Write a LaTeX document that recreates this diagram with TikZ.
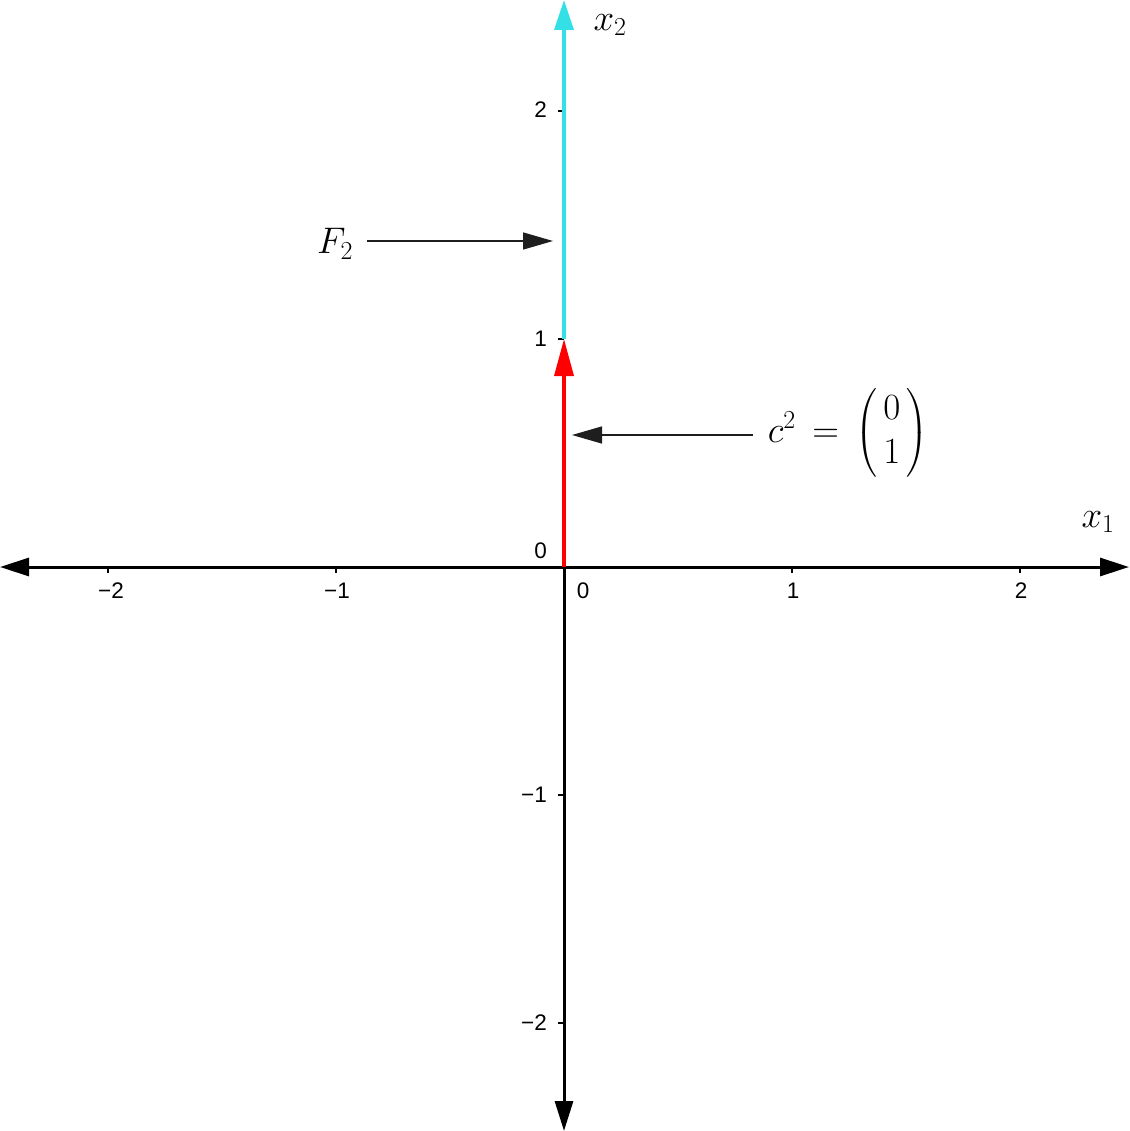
\documentclass[tikz,border=0pt]{standalone}
\usepackage{fix-cm}
\usepackage{amsmath}
\usepackage{fontspec}
\newfontfamily\tickfont{Liberation Sans}
\usetikzlibrary{arrows.meta}
\definecolor{vcyan}{RGB}{51,224,230}
\definecolor{vred}{RGB}{255,0,0}
\definecolor{notegray}{RGB}{30,30,30}
\tikzset{
  axisline/.style={line width=3pt, black},
  vec/.style={line width=3.5pt},
  note/.style={line width=1.4pt, notegray, -{Triangle[length=30pt,width=17pt]}},
  tick/.style={line width=1.5pt, black},
  ticklab/.style={font=\fontsize{22.5}{26}\selectfont\tickfont, inner sep=0pt},
  mlab/.style={font=\fontsize{37}{44}\selectfont, inner sep=0pt}
}
\begin{document}
\begin{tikzpicture}[x=1pt,y=-1pt]
\useasboundingbox (0,0) rectangle (1129,1131);
\fill[white] (0,0) rectangle (1129,1131);
% coordinates
\coordinate (O) at (564,567);
\coordinate (xl) at (0,567);
\coordinate (xr) at (1129,567);
\coordinate (yb) at (564,1131);
\coordinate (yt) at (564,0);
\coordinate (e2) at (564,339);
% axes
\draw[axisline, {Triangle[length=29pt,width=18pt]}-{Triangle[length=29pt,width=18pt]}] (xl) -- (xr);
\draw[axisline, -{Triangle[length=30pt,width=18pt]}] (O) -- (yb);
% ticks
\foreach \x in {108,336,792,1020} \draw[tick] (\x,567) -- (\x,573);
\foreach \y in {111,339,795,1023} \draw[tick] (564,\y) -- (558,\y);
% vectors
\draw[vec, vcyan, -{Triangle[length=30pt,width=19pt]}] (e2) -- (yt);
\draw[vec, vred, -{Triangle[length=37pt,width=19pt]}] (O) -- (e2);
% tick labels
\node[ticklab] (tx-2) at (111,591) {−2};
\node[ticklab] (tx-1) at (337,591) {−1};
\node[ticklab] (tx0) at (583,591) {0};
\node[ticklab] (tx1) at (793,591) {1};
\node[ticklab] (tx2) at (1021,591) {2};
\node[ticklab, anchor=east] (ty2) at (547,110) {2};
\node[ticklab, anchor=east] (ty1) at (547,339) {1};
\node[ticklab, anchor=east] (ty0) at (547,551) {0};
\node[ticklab, anchor=east] (ty-1) at (547,795) {−1};
\node[ticklab, anchor=east] (ty-2) at (547,1023) {−2};
% axis labels
\node[mlab] (x1) at (1098,522) {$x_1$};
\node[mlab] (x2) at (610,25) {$x_2$};
% annotations
\node[mlab] (F2) at (335,244) {$F_2$};
\coordinate (F2t) at (553,241);
\coordinate (F2s) at (367,241);
\draw[note] (F2s) -- (F2t);
\node[mlab] (c2) at (848,433) {$c^{2}\,=\,\begin{pmatrix}\,0\,\\\,1\,\end{pmatrix}$};
\coordinate (c2s) at (753,435);
\coordinate (c2t) at (572,435);
\draw[note] (c2s) -- (c2t);
\end{tikzpicture}
\end{document}
